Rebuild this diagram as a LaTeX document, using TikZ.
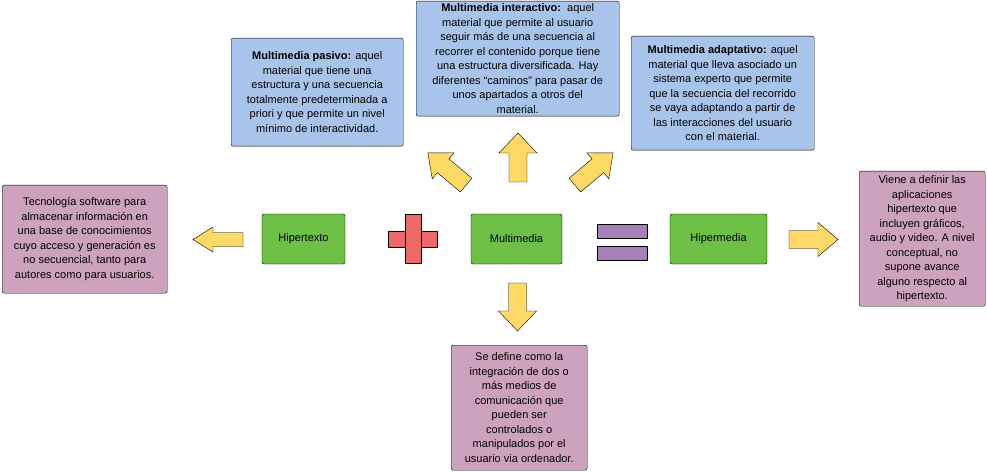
\documentclass[tikz,border=0pt]{standalone}
\usepackage{fontspec}
\setmainfont{Liberation Sans}
\definecolor{pinkb}{HTML}{CDA2BE}
\definecolor{blueb}{HTML}{A9C4EB}
\definecolor{greenb}{HTML}{6DBF45}
\definecolor{yel}{HTML}{FFD966}
\definecolor{redc}{HTML}{EA6B66}
\definecolor{purp}{HTML}{A680B8}
\newcommand{\barrowat}[6]{% x y angle length headhalf shafthalf
 \begin{scope}[shift={(#1,#2)},rotate=#3]
 \draw[black,fill=yel,line join=miter] (-#4/2,-#6) -- (#4/2-20,-#6) -- (#4/2-20,-#5) -- (#4/2,0) -- (#4/2-20,#5) -- (#4/2-20,#6) -- (-#4/2,#6) -- cycle;
 \end{scope}}
\begin{document}
\begin{tikzpicture}[x=1pt,y=-1pt,
 txt/.style={draw=black,rounded corners=2pt,align=center,font=\fontsize{11}{14.5}\selectfont,inner sep=0pt,anchor=north west},
 gbox/.style={draw=black,rounded corners=2pt,fill=greenb,minimum width=83pt,minimum height=50pt,font=\fontsize{11}{13}\selectfont}]
\useasboundingbox (0,0) rectangle (987,473);
\node[txt,fill=pinkb,minimum width=165pt,minimum height=108pt] (tec) at (2,185) {Tecnología software para\\almacenar información en\\una base de conocimientos\\cuyo acceso y generación es\\no secuencial, tanto para\\autores como para usuarios.};
\node[gbox] (hipt) at (303.5,239) {Hipertexto};
\node[gbox,minimum width=91pt] (mm) at (516.5,239) {Multimedia};
\node[gbox,minimum width=97pt] (hipm) at (718.5,239) {Hipermedia};
\node[draw=black,fill=redc,minimum width=49pt,minimum height=16pt,inner sep=0pt] (p1) at (413,239) {};
\node[draw=black,fill=redc,minimum width=16pt,minimum height=49pt,inner sep=0pt] (p2) at (413,239) {};
\node[fill=redc,minimum width=15pt,minimum height=15pt,inner sep=0pt] (p3) at (413,239) {};
\node[draw=black,fill=purp,minimum width=50pt,minimum height=14pt,inner sep=0pt] (eq1) at (622,231) {};
\node[draw=black,fill=purp,minimum width=50pt,minimum height=14pt,inner sep=0pt] (eq2) at (622,253) {};
\node[txt,fill=pinkb,minimum width=126pt,minimum height=135pt] (vien) at (859,171) {Viene a definir las\\aplicaciones\\hipertexto que\\incluyen gráficos,\\audio y video. A nivel\\conceptual, no\\supone avance\\alguno respecto al\\hipertexto.};
\node[txt,fill=pinkb,minimum width=136pt,minimum height=125pt] (sedef) at (451,345) {Se define como la\\integración de dos o\\más medios de\\comunicación que\\pueden ser\\controlados o\\manipulados por el\\usuario via ordenador.};
\node[txt,fill=blueb,minimum width=172pt,minimum height=108pt] (pas) at (231,38) {\textbf{Multimedia pasivo:} aquel\\material que tiene una\\estructura y una secuencia\\totalmente predeterminada a\\priori y que permite un nivel\\mínimo de interactividad.};
\node[txt,fill=blueb,minimum width=203pt,minimum height=115pt] (inter) at (416,1) {\textbf{Multimedia interactivo:}\ \ aquel\\material que permite al usuario\\seguir más de una secuencia al\\recorrer el contenido porque tiene\\una estructura diversificada. Hay\\diferentes “caminos” para pasar de\\unos apartados a otros del\\material.};
\node[txt,fill=blueb,minimum width=183pt,minimum height=114pt] (adap) at (631,36) {\textbf{Multimedia adaptativo:} aquel\\material que lleva asociado un\\sistema experto que permite\\que la secuencia del recorrido\\se vaya adaptando a partir de\\las interacciones del usuario\\con el material.};
\barrowat{218}{239.5}{180}{50}{12.5}{7}
\barrowat{813.5}{239.5}{0}{49}{17}{9}
\barrowat{517.5}{307}{-90}{48}{19}{9}
\barrowat{518}{157.5}{90}{49}{19}{9}
\barrowat{447}{169}{140}{50}{17}{9}
\barrowat{594}{169}{40}{50}{17}{9}
\end{tikzpicture}
\end{document}
